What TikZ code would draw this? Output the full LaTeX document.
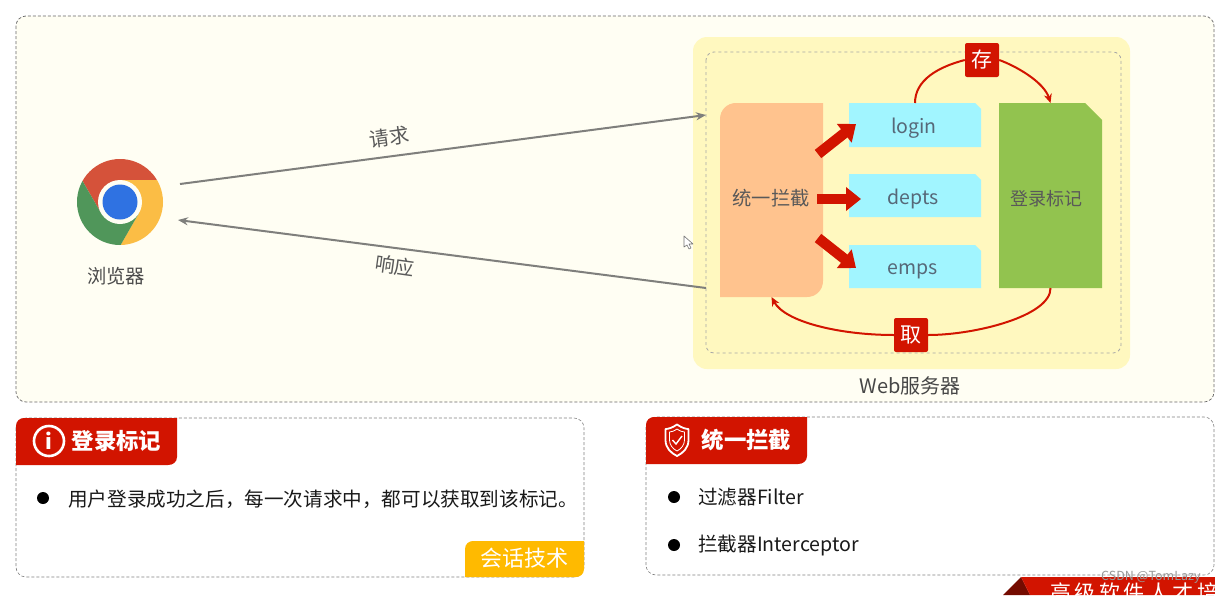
\documentclass[tikz,border=0pt]{standalone}
\usepackage{fontspec}
\setmainfont{Noto Sans CJK SC}
\usetikzlibrary{arrows.meta}
\definecolor{crimson}{HTML}{D21400}
\definecolor{pagecream}{HTML}{FFFEF3}
\definecolor{yellowbox}{HTML}{FFF8BF}
\definecolor{orangebox}{HTML}{FFC38E}
\definecolor{cyanbox}{HTML}{A1F5FF}
\definecolor{greenbox}{HTML}{92C34F}
\definecolor{goldtab}{HTML}{FFBA00}
\definecolor{flowgray}{HTML}{7F7F7C}
\definecolor{txtgray}{HTML}{595959}
\definecolor{slatetxt}{HTML}{566878}
\definecolor{chromered}{HTML}{D5523A}
\definecolor{chromeyellow}{HTML}{FBBD45}
\definecolor{chromegreen}{HTML}{50965A}
\definecolor{chromeblue}{HTML}{2F72E2}
\tikzset{
  flow/.style={draw=flowgray,line width=2pt,-{Stealth[length=10pt,width=8pt]}},
  block/.style={draw=crimson,line width=10.5pt,-{Triangle[length=15pt,width=23pt]}},
  loopline/.style={draw=crimson,line width=2pt,-{Stealth[length=9pt,width=8pt]}},
  plainline/.style={draw=crimson,line width=2pt},
  tag/.style={fill=crimson,text=white,rounded corners=2pt,minimum width=34pt,minimum height=34pt,inner sep=0pt,font=\fontsize{21}{21}\selectfont},
  ghost/.style={inner sep=0pt,outer sep=0pt},
  label/.style={inner sep=0pt,text=txtgray,font=\fontsize{19.3}{19.3}\selectfont},
  api/.style={ghost,minimum width=132pt,minimum height=44pt},
  apitext/.style={ghost,text=slatetxt,font=\fontsize{19.5}{19.5}\selectfont},
  card/.style={draw=black!50,densely dashed,line width=.6pt,fill=white,rounded corners=10pt},
  head/.style={inner sep=0pt,text=white,font=\fontsize{22.4}{22.4}\selectfont\bfseries},
  bodytxt/.style={inner sep=0pt,anchor=west,text=black!90,font=\fontsize{19.6}{19.6}\selectfont},
}
\begin{document}
\begin{tikzpicture}[x=1pt,y=-1pt]
\useasboundingbox (0,0) rectangle (1215,595);
\clip (0,0) rectangle (1215,595);
\fill[white] (0,0) rectangle (1215,595);
% main panel
\draw[draw=black!60,densely dashed,line width=.7pt,fill=pagecream,rounded corners=10pt] (16,16) rectangle (1214,402);
\fill[yellowbox,rounded corners=14pt] (693,37) rectangle (1130,369);
\draw[draw=black!35,dashed,line width=.8pt,rounded corners=8pt] (706,52) rectangle (1121,353);
% browser icon
\begin{scope}
\clip (120,202) circle[radius=43pt];
\fill[chromered] (101,213) -- (41,109) -- (220,109) -- (220,180) -- (120,180) -- cycle;
\fill[chromeyellow] (120,180) -- (220,180) -- (220,300) -- (89,300) -- (139,213) -- cycle;
\fill[chromegreen] (139,213) -- (89,300) -- (20,300) -- (20,109) -- (41,109) -- (101,213) -- cycle;
\end{scope}
\fill[pagecream] (120,202) circle[radius=22pt];
\fill[chromeblue] (120,202) circle[radius=17.5pt];
\node[label,text=black!70] (browser) at (116,276) {浏览器};
\coordinate (reqstart) at (180,184);
\coordinate (reqend) at (706,115);
\coordinate (respstart) at (706,288);
\coordinate (respend) at (178,220);
\draw[flow] (reqstart) -- (reqend);
\draw[flow] (respstart) -- (respend);
\node[label,text=black!65,font=\fontsize{20}{20}\selectfont,rotate=8] (reqlabel) at (389,137) {请求};
\node[label,text=black!65,font=\fontsize{20}{20}\selectfont,rotate=-8] (resplabel) at (395,266) {响应};
% cursor
\draw[fill=white,draw=black!55,line width=.6pt,line join=round] (684,236) -- (684,247) -- (687,245) -- (689,249) -- (691,248) -- (689,244) -- (693,244) -- cycle;
% shapes
\fill[orangebox] (736,103) -- (823,103) -- (823,281) .. controls (823,290) and (816,297) .. (807,297) -- (720,297) -- (720,119) .. controls (720,110) and (727,103) .. cycle;
\fill[cyanbox] (849,103) -- (975,103) -- (981,109) -- (981,147) -- (849,147) -- cycle;
\fill[cyanbox] (849,174) -- (975,174) -- (981,180) -- (981,217) -- (849,217) -- cycle;
\fill[cyanbox] (849,245) -- (975,245) -- (981,251) -- (981,288) -- (849,288) -- cycle;
\fill[greenbox] (999,103) -- (1085,103) -- (1102,120) -- (1102,288) -- (999,288) -- cycle;
% nodes
\node[ghost,minimum width=103pt,minimum height=194pt] (inter) at (771.5,200) {};
\node[label] (intertext) at (771,198) {统一拦截};
\node[api] (login) at (915,125) {};
\node[api,minimum height=43pt] (depts) at (915,195.5) {};
\node[api,minimum height=43pt] (emps) at (915,266.5) {};
\node[apitext] at (914,128) {login};
\node[apitext] at (913,199) {depts};
\node[apitext] at (913,271) {emps};
\node[ghost,minimum width=103pt,minimum height=185pt] (mark) at (1050.5,195.5) {};
\node[label,font=\fontsize{18}{18}\selectfont] (marktext) at (1046,199) {登录标记};
\node[label,text=black!72,font=\fontsize{20}{20}\selectfont] (web) at (910,386) {Web服务器};
\node[tag] (cun) at (982,60) {存};
\node[tag] (qu) at (911,335) {取};
% block arrows
\coordinate (ba) at (818,154);
\coordinate (bb) at (856,124);
\coordinate (bc) at (817,199);
\coordinate (bd) at (861,199);
\coordinate (be) at (818,238);
\coordinate (bf) at (856,268);
\draw[block] (ba) -- (bb);
\draw[block] (bc) -- (bd);
\draw[block] (be) -- (bf);
% loops
\draw[plainline] (login.north) .. controls (915,80) and (938,67) .. (cun.west);
\draw[loopline] (cun.east) .. controls (1016,66) and (1044,82) .. (mark.north);
\draw[plainline] (mark.south) .. controls (1051,316) and (975,335) .. (qu.east);
\draw[loopline] (qu.west) .. controls (840,335) and (785,322) .. (inter.south);
% left card
\draw[card] (16,418) rectangle (584,577);
\fill[crimson] (16,465) -- (16,426) .. controls (16,421) and (20,418) .. (24,418) -- (177,418) -- (177,457) .. controls (177,462) and (173,465) .. (168,465) -- cycle;
\draw[white,line width=2.6pt] (49,441) circle[radius=15pt];
\node[inner sep=0pt,text=white,font=\fontsize{21}{21}\selectfont\bfseries\itshape] (infoi) at (49,441) {i};
\node[head] (cardhead1) at (116.5,441) {登录标记};
\fill[black] (43,498) circle[radius=6pt];
\node[bodytxt] (b1) at (68,499) {用户登录成功之后，每一次请求中，都可以获取到该标记。};
\fill[goldtab] (584,541) -- (584,569) .. controls (584,574) and (580,577) .. (576,577) -- (465,577) -- (465,549) .. controls (465,544) and (469,541) .. (473,541) -- cycle;
\node[inner sep=0pt,text=white,font=\fontsize{22}{22}\selectfont] (session) at (524,558) {会话技术};
% right card
\draw[card] (646,417) rectangle (1214,575);
\fill[crimson] (646,464) -- (646,425) .. controls (646,420) and (650,417) .. (654,417) -- (807,417) -- (807,456) .. controls (807,461) and (803,464) .. (798,464) -- cycle;
\draw[white,line width=1.8pt,line join=round] (677,424.5) .. controls (672,428) and (668,429) .. (665.5,429) -- (665.5,440) .. controls (665.5,448) and (671,453) .. (677,456) .. controls (683,453) and (688.5,448) .. (688.5,440) -- (688.5,429) .. controls (686,429) and (682,428) .. cycle;
\draw[white,line width=.8pt,line join=round] (677,429) .. controls (674,431) and (672,432) .. (669.5,432) -- (669.5,440) .. controls (669.5,445) and (673,449) .. (677,451) .. controls (681,449) and (684.5,445) .. (684.5,440) -- (684.5,432) .. controls (682,432) and (680,431) .. cycle;
\draw[white,line width=1.4pt] (672.5,440) -- (676,444) -- (682,436);
\node[head] (cardhead2) at (746.5,440) {统一拦截};
\fill[black] (674,497) circle[radius=6pt];
\fill[black] (674,545) circle[radius=6pt];
\node[bodytxt] (b2) at (698,497) {过滤器Filter};
\node[bodytxt] (b3) at (698,546) {拦截器Interceptor};
% banner
\fill[crimson!55!black] (1003,595) -- (1021,577) -- (1030,595) -- cycle;
\fill[crimson] (1021,577) -- (1215,577) -- (1215,595) -- (1030,595) -- cycle;
\node[inner sep=0pt,anchor=west,text=white,font=\fontsize{21}{21}\selectfont] (banner) at (1050,592) {高\,级\,软\,件\,人\,才\,培\,训};
\node[inner sep=0pt,anchor=west,text=black!40,font=\fontsize{12.5}{12.5}\selectfont] (wm) at (1101,577) {CSDN @TomLazy};
\end{tikzpicture}
\end{document}
